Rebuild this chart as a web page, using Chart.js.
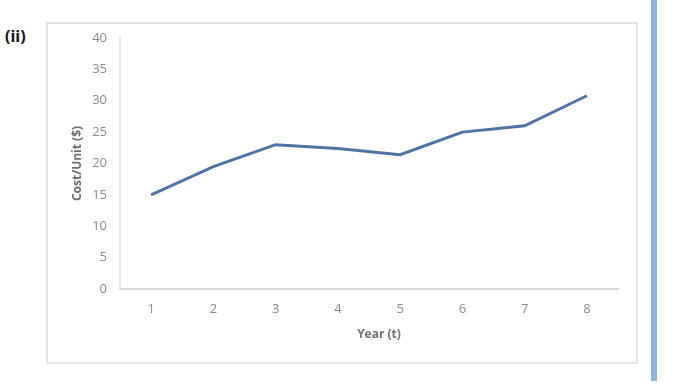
<!DOCTYPE html>
<html>
<head>
<meta charset="utf-8">
<script src="https://cdn.jsdelivr.net/npm/chart.js@4/dist/chart.umd.min.js"></script>
<style>
  html, body { margin: 0; padding: 0; background: #fff; }
  #wrap { position: relative; width: 700px; height: 390px; overflow: hidden; }
  #box { position: absolute; left: 46px; top: 22px; width: 588px; height: 338px; border: 2px solid #e3e3e3; }
  #bar { position: absolute; left: 651px; top: 0; width: 6px; height: 381px; background: #8db3e2; }
  #lbl { position: absolute; left: 5px; top: 25px; font: bold 16px "Open Sans", sans-serif; color: #111; }
  canvas { position: absolute; left: 0; top: 0; }
</style>
</head>
<body>
<div id="wrap">
  <div id="box"></div>
  <div id="bar"></div>
  <div id="lbl">(ii)</div>
  <canvas id="c" width="700" height="390"></canvas>
</div>
<script>
const years = ["1", "2", "3", "4", "5", "6", "7", "8"];
const costPerUnit = [15, 19.5, 23, 22.4, 21.4, 25, 26, 30.8];
const yTitle = "Cost/Unit ($)";
const xTitle = "Year (t)";

const tickFont = { family: "'Open Sans', 'Liberation Sans', sans-serif", size: 13 };
const titleFont = { family: "'Open Sans', 'Liberation Sans', sans-serif", size: 12, weight: "bold" };

const xTitlePlugin = {
  id: "xTitle",
  afterDraw(chart) {
    const { ctx, chartArea } = chart;
    ctx.save();
    ctx.font = "bold 12px 'Open Sans', 'Liberation Sans', sans-serif";
    ctx.fillStyle = "#6f6f6f";
    ctx.textAlign = "center";
    ctx.textBaseline = "middle";
    ctx.fillText(xTitle, (chartArea.left + chartArea.right) / 2 + 10, chartArea.bottom + 46);
    ctx.restore();
  }
};

new Chart(document.getElementById("c"), {
  type: "line",
  data: {
    labels: years,
    datasets: [{
      data: costPerUnit,
      borderColor: "#4f74a3",
      borderWidth: 3,
      pointRadius: 0,
      tension: 0,
      fill: false
    }]
  },
  options: {
    responsive: false,
    animation: false,
    plugins: { legend: { display: false }, tooltip: { enabled: false } },
    layout: { padding: { left: 70, right: 82, top: 38, bottom: 41 } },
    scales: {
      x: {
        type: "category",
        offset: true,
        grid: { display: false, drawTicks: true, tickLength: 8 },
        border: { display: true, color: "#d9d9d9", width: 2 },
        ticks: { color: "#8c8c8c", font: tickFont, padding: 4, maxRotation: 0 },
        title: { display: false },
        afterFit: (s) => { s.height = 390 - 41 - 289; }
      },
      y: {
        min: 0, max: 40,
        grid: { display: false, drawTicks: true, tickLength: 8 },
        border: { display: true, color: "#e3e3e3", width: 2 },
        ticks: { stepSize: 5, color: "#8c8c8c", font: tickFont, padding: 5 },
        title: { display: true, text: yTitle, color: "#6f6f6f", font: titleFont, padding: { top: 0, bottom: 0 } },
        afterFit: (s) => { s.width = 120 - 70; }
      }
    }
  },
  plugins: [xTitlePlugin]
});
</script>
</body>
</html>
